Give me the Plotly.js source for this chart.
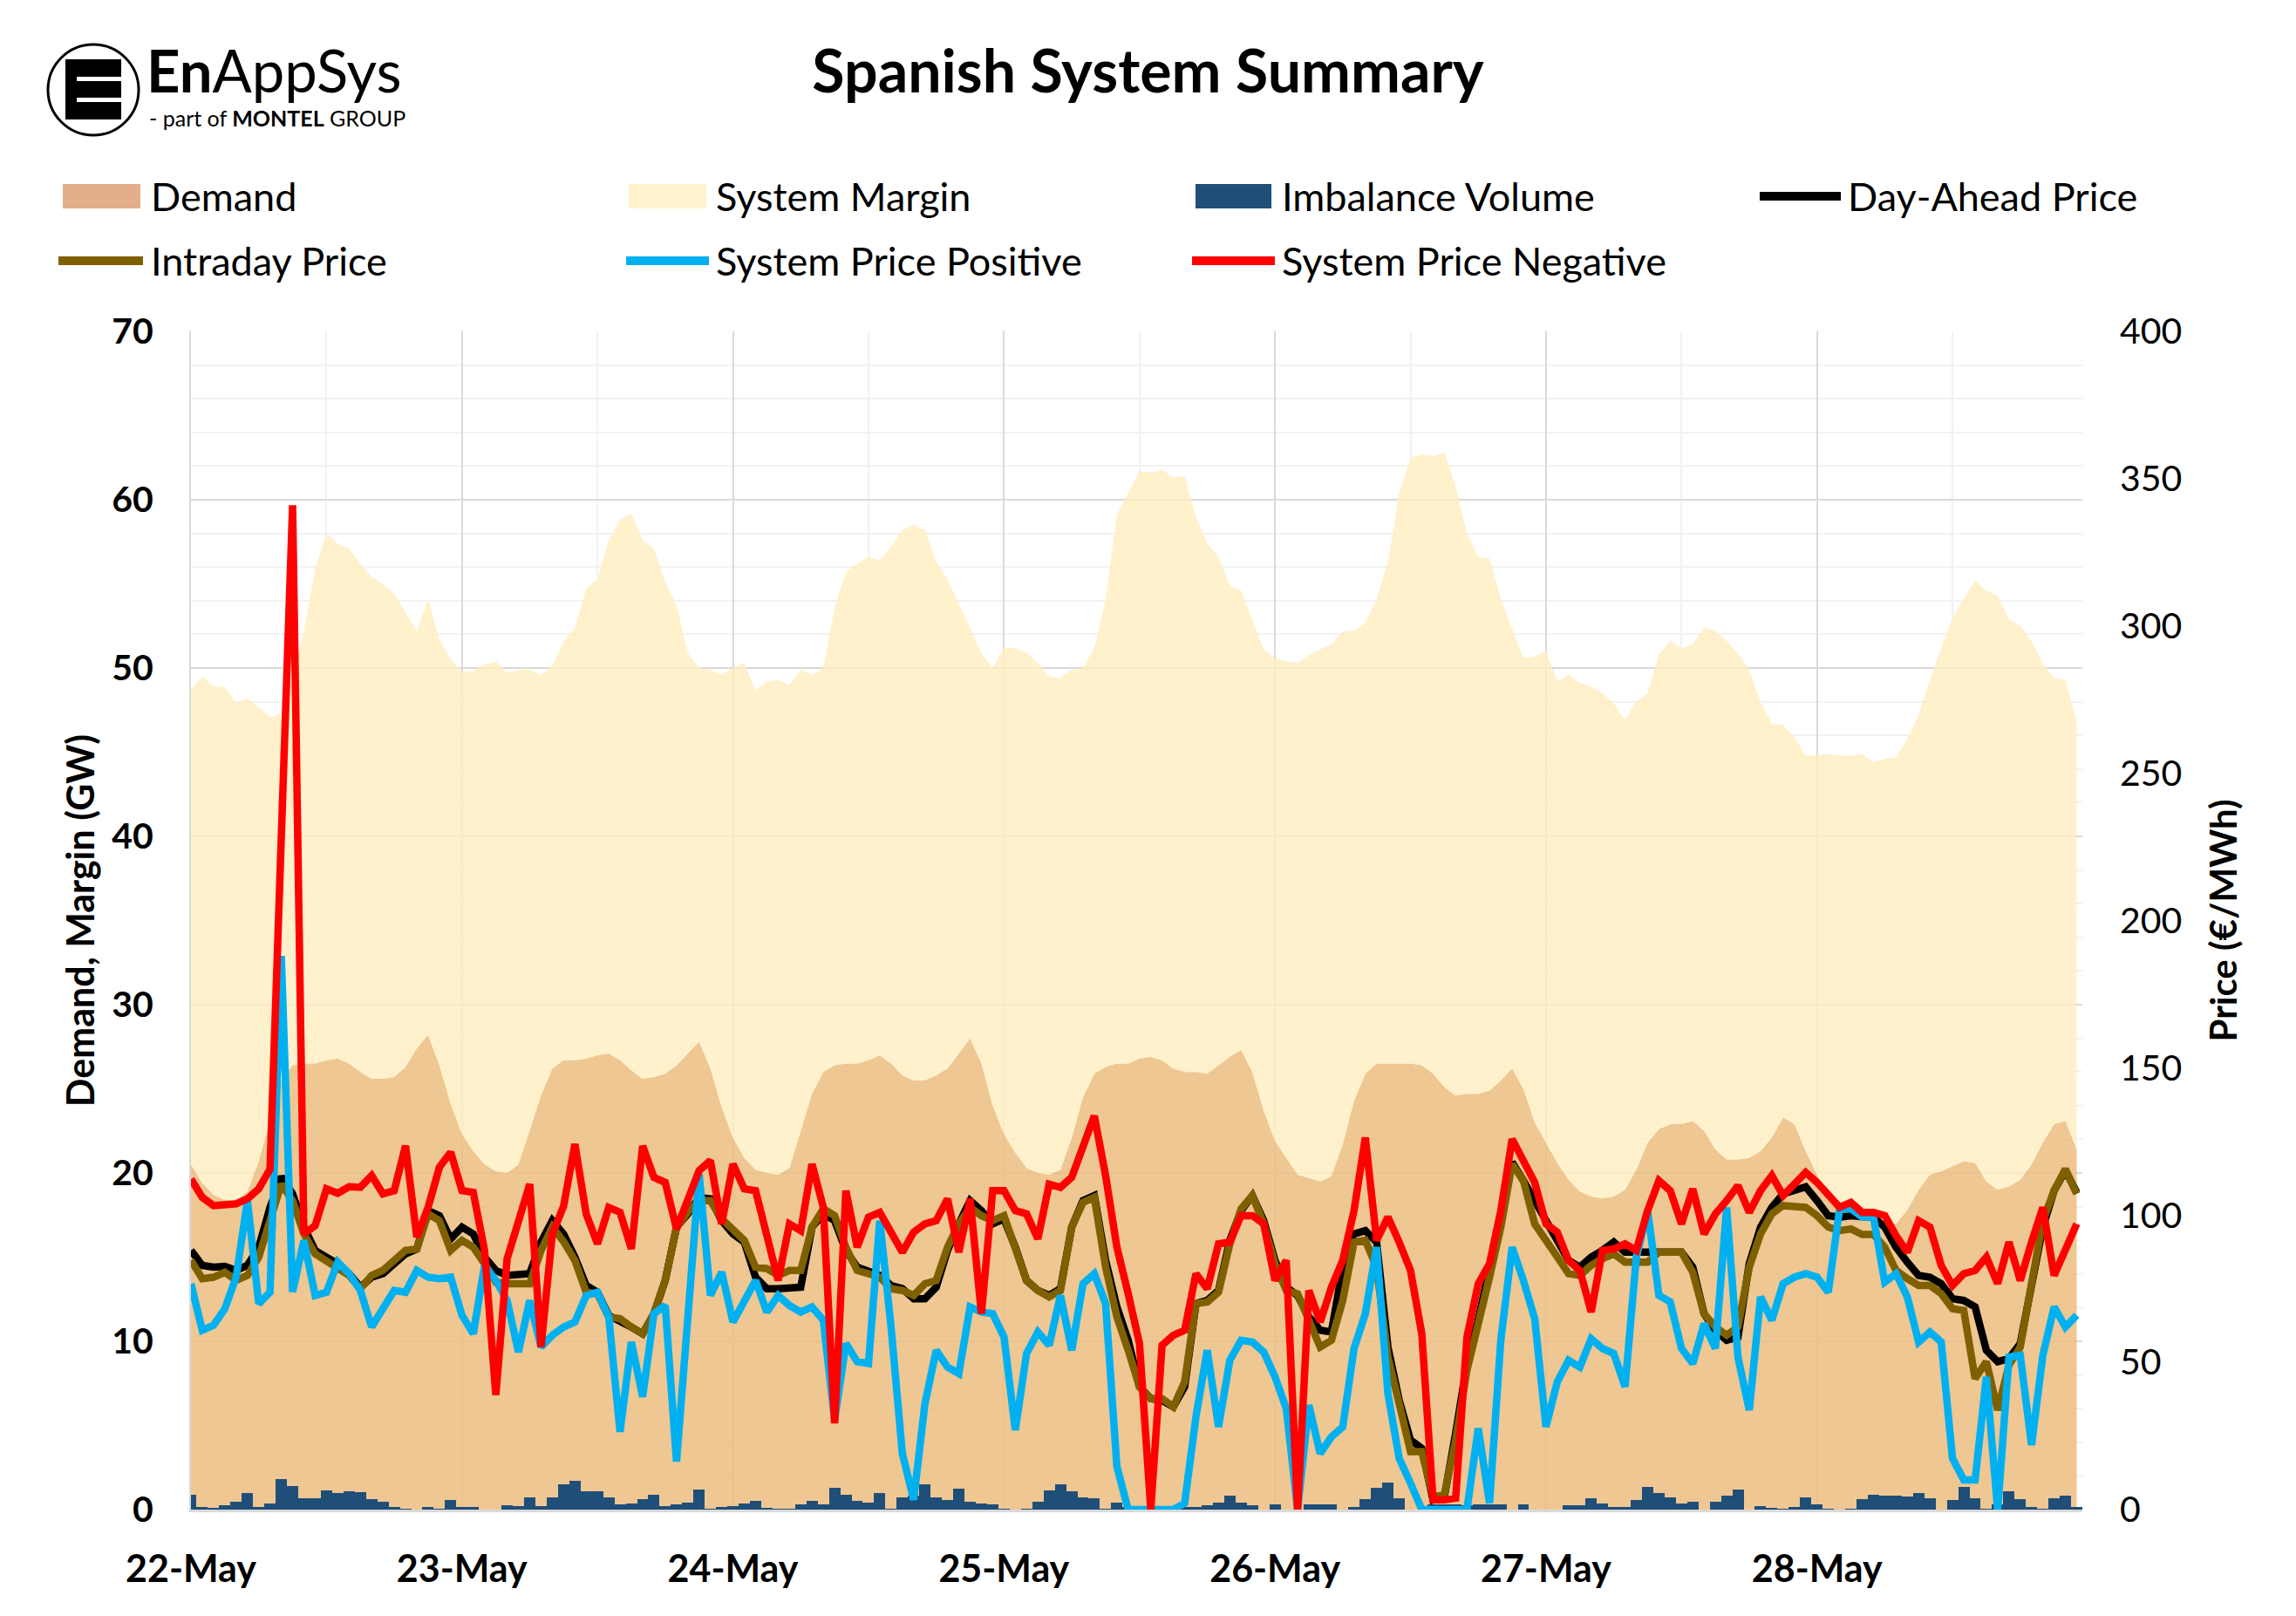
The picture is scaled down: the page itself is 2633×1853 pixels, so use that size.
<!DOCTYPE html>
<html>
<head>
<meta charset="utf-8">
<script src="https://cdn.plot.ly/plotly-3.0.1.min.js"></script>
<style>
html, body { margin: 0; padding: 0; background: #ffffff; }
#chart { width: 2633px; height: 1853px; }
</style>
</head>
<body>
<div id="chart"></div>
<script>
// ---------------- DATA (hourly, 22-May 00:00 to 28-May 23:00) ----------------
const dayLabels = ['22-May', '23-May', '24-May', '25-May', '26-May', '27-May', '28-May'];

// Demand, GW
const demand = [
  20.5,19.4,18.7,18.4,18.4,18.9,20.7,23.1,25.5,26.4,26.5,26.5,26.7,26.8,26.5,26.0,25.6,25.6,25.7,26.3,27.4,28.2,26.4,24.1,
  22.3,21.3,20.5,20.1,20.0,20.5,22.5,24.6,26.2,26.7,26.7,26.8,27.0,27.1,26.7,26.1,25.6,25.7,25.9,26.4,27.1,27.8,26.2,23.9,
  22.1,20.9,20.2,20.0,19.9,20.3,22.5,24.7,26.0,26.4,26.5,26.5,26.7,27.0,26.5,25.8,25.5,25.5,25.8,26.2,27.1,28.0,26.5,24.0,
  22.3,21.2,20.3,20.0,19.9,20.2,22.1,24.5,25.9,26.3,26.5,26.5,26.8,26.9,26.7,26.2,26.0,26.0,25.9,26.4,26.9,27.3,26.0,23.7,
  21.9,20.9,19.9,19.7,19.5,19.8,21.7,24.3,25.9,26.5,26.5,26.5,26.5,26.4,25.9,25.1,24.6,24.7,24.7,24.9,25.5,26.2,25.0,23.0,
  21.8,20.6,19.6,18.9,18.6,18.5,18.6,19.0,20.2,21.8,22.6,22.9,22.9,23.1,22.5,21.4,20.8,20.8,20.9,21.3,22.1,23.3,22.9,21.3,
  19.9,18.7,18.3,18.0,17.7,17.4,17.0,17.0,17.8,19.0,19.9,20.1,20.4,20.7,20.6,19.5,19.0,19.2,19.6,20.5,21.8,22.9,23.1,21.4
];

// Upper edge of the System Margin band (demand + margin), GW
const marginTop = [
  48.7,49.5,48.9,48.9,47.9,48.2,47.7,47.1,47.3,49.5,52.2,55.9,58.0,57.4,57.1,56.2,55.4,55.0,54.4,53.3,52.2,54.1,51.7,50.5,
  49.8,49.8,50.2,50.4,49.7,49.9,49.9,49.6,50.1,51.6,52.4,54.7,55.3,57.6,58.8,59.2,57.6,57.1,55.1,53.7,50.9,50.0,49.9,49.6,
  50.0,50.3,48.7,49.2,49.3,49.0,49.9,49.6,50.0,53.6,55.7,56.2,56.6,56.4,57.2,58.2,58.5,58.2,56.3,55.3,53.8,52.4,50.9,50.0,
  51.2,51.2,50.9,50.3,49.5,49.4,49.9,50.0,51.2,54.1,59.1,60.4,61.7,61.6,61.8,61.3,61.4,59.0,57.4,56.6,54.9,54.6,52.8,51.1,
  50.6,50.4,50.3,50.8,51.1,51.4,52.2,52.2,52.7,54.1,56.3,60.4,62.5,62.7,62.6,62.8,60.8,58.0,56.6,56.5,54.1,52.4,50.6,50.7,
  51.0,49.2,49.6,49.1,48.9,48.5,47.9,46.9,48.0,48.5,50.8,51.6,51.2,51.4,52.4,52.2,51.6,50.9,49.9,48.0,46.7,46.6,45.9,44.8,
  44.8,44.9,44.8,44.8,44.9,44.4,44.6,44.7,45.8,47.2,49.3,51.2,53.0,54.1,55.2,54.6,54.3,52.9,52.5,51.6,50.3,49.4,49.3,46.8
];

// Imbalance Volume, GW
const imbalance = [
  0.9,0.15,0.1,0.25,0.45,1.0,0.15,0.35,1.8,1.4,0.65,0.65,1.15,1.0,1.1,1.05,0.6,0.45,0.15,0.05,0,0.15,0.05,0.55,
  0.15,0.15,0,0,0.25,0.2,0.7,0.2,0.7,1.5,1.7,1.1,1.1,0.7,0.3,0.35,0.6,0.9,0.2,0.3,0.4,1.2,0.05,0.15,
  0.2,0.35,0.5,0.1,0.05,0.05,0.3,0.5,0.3,1.3,0.9,0.5,0.4,1.0,0.05,0.75,0.85,1.5,0.7,0.55,1.25,0.45,0.35,0.3,
  0.05,0,0.05,0.45,1.15,1.5,1.1,0.75,0.65,0.05,0.4,0.15,0,0,0,0.05,0.15,0.15,0.25,0.4,0.85,0.4,0.25,0,
  0.3,0,0,0.3,0.3,0.3,0,0.15,0.6,1.3,1.6,0.65,0,0,0.3,0.3,0.3,0.25,0.3,0.3,0.3,0,0.3,0,
  0,0,0.25,0.25,0.65,0.35,0.15,0.15,0.55,1.35,1.0,0.7,0.35,0.45,0,0.45,0.85,1.2,0,0.2,0.1,0.05,0.15,0.7,
  0.3,0.05,0,0.05,0.6,0.9,0.85,0.85,0.8,1.0,0.65,0,0.55,1.35,0.65,0.05,0.3,1.1,0.6,0.15,0.05,0.65,0.85,0.15
];

// Day-Ahead Price, EUR/MWh
const dayAhead = [
  88.0,82.9,82.3,82.6,81.2,82.9,89.1,102.6,113.0,107.2,95.9,88.0,85.7,83.5,80.1,75.5,78.9,80.1,83.5,86.8,88.5,101.5,99.8,91.9,
  95.9,93.6,85.7,81.2,79.5,79.5,80.1,90.8,98.1,93.5,85.7,76.1,73.8,65.9,64.2,62.0,59.7,66.5,77.8,95.9,100.4,106.0,105.5,98.1,
  93.6,90.8,78.9,75.0,75.0,75.0,75.5,95.9,100.4,98.1,88.0,82.3,81.2,79.5,76.1,75.0,71.6,71.6,75.5,88.0,97.0,104.9,101.5,97.0,
  98.7,89.1,77.8,74.4,72.7,75.0,95.9,104.9,106.6,84.6,68.8,57.5,41.7,37.7,37.1,34.9,41.7,69.9,71.0,74.4,91.4,101.5,106.6,98.1,
  84.6,75.5,72.7,65.4,60.9,60.3,82.3,93.6,94.7,90.8,55.2,37.1,23.6,20.8,3.3,4.4,25.9,49.6,64.3,82.3,98.1,117.9,111.7,104.9,
  97.0,90.2,84.6,82.3,85.7,88.0,90.8,87.4,87.4,87.4,87.4,87.4,87.4,82.3,66.5,60.9,57.5,58.6,83.5,95.9,102.6,107.2,108.3,109.6,
  104.9,99.8,99.3,99.8,99.5,99.3,95.9,89.1,84.0,79.5,78.9,76.7,71.6,71.0,68.8,54.1,50.2,51.3,56.4,75.5,95.9,108.3,115.1,107.7
];

// Intraday Price, EUR/MWh
const intraday = [
  84.6,78.4,78.9,80.6,77.8,79.5,85.7,98.1,110.5,104.9,93.6,86.8,84.6,82.3,79.5,75.0,79.5,81.2,84.6,88.0,88.5,100.4,98.1,88.0,
  91.4,89.1,83.5,77.2,76.7,76.7,76.7,88.0,95.9,91.0,84.6,73.8,73.3,65.4,64.8,62.0,59.7,66.5,77.8,95.9,101.0,104.9,104.9,98.7,
  94.7,91.4,82.3,81.8,79.5,81.2,81.2,95.9,102.1,99.8,89.1,81.2,80.1,78.9,75.0,74.4,72.7,76.7,77.8,89.1,97.0,102.6,99.8,98.1,
  99.8,88.0,77.8,74.4,72.2,74.4,95.9,104.3,106.0,82.3,65.4,54.1,41.7,37.7,37.7,34.9,43.4,69.9,70.5,73.8,90.2,102.1,106.6,97.0,
  83.5,74.4,73.3,64.3,55.2,57.5,71.0,90.8,91.4,82.3,51.8,36.0,19.7,19.7,4.4,5.0,23.6,47.3,62.0,78.9,95.9,117.3,111.7,97.0,
  91.4,85.7,80.1,79.5,82.9,85.2,86.8,84.0,84.0,84.0,87.4,87.4,87.4,80.6,66.5,62.0,59.2,62.0,82.3,93.6,100.4,103.2,103.2,102.6,
  99.8,95.9,94.7,95.3,93.4,93.4,89.1,81.2,78.4,76.1,76.1,73.3,68.2,67.6,44.5,50.2,33.8,49.0,55.2,75.5,98.1,108.3,115.6,107.2
];

// System Price Positive, EUR/MWh
const sysPricePos = [
  76.7,60.9,62.6,68.2,78.9,104.9,69.9,73.8,188,73.9,91.4,72.7,73.8,84.0,80.1,74.4,62.0,68.2,74.4,73.8,81.2,78.9,78.4,78.9,
  66.0,59.7,82.9,77.8,71.0,53.5,71.0,55.2,59.2,62.0,63.7,72.7,73.8,65.4,26.4,56.9,38.3,66.5,69.3,16.3,63.0,113.9,72.7,80.6,
  63.7,71.0,77.8,67.1,72.7,69.3,67.1,68.8,64.3,30.4,56.4,50.2,49.6,98.1,62.0,19.1,3.3,36.0,54.1,48.4,46.2,68.8,67.1,66.5,
  58.6,27.0,53.0,60.3,55.8,72.7,54.1,76.7,80.1,69.9,14.6,0,0,0,0,0,2.2,31.5,54.1,28.1,50.7,57.5,56.9,53.5,
  45.1,34.3,0,35.5,19.1,24.7,28.1,54.7,66.5,89.1,39.4,17.4,9.0,0,0,0,0,0,27.6,2.2,57.5,89.1,77.8,64.8,
  28.1,43.4,50.7,48.4,58.0,54.7,53.0,41.7,85.7,101.5,72.7,70.5,54.7,49.6,63.1,54.7,102.6,51.8,33.8,72.2,64.3,76.7,78.9,80.1,
  78.9,73.8,102.1,102.1,99.3,99.3,77.2,80.1,72.2,56.9,60.3,56.9,17.4,10.1,10.1,45.1,0,51.8,52.4,21.9,52.4,68.8,62.0,66.0
];

// System Price Negative, EUR/MWh
const sysPriceNeg = [
  112.2,106.0,103.2,103.2,103.8,105.5,108.9,115.6,228,341,93.6,96.4,108.9,107.4,109.6,109.4,113.4,107.2,108.3,123.5,92.5,102.6,116.2,121.3,
  108.3,107.7,88.0,38.9,85.2,97.0,110.5,55.2,93.6,103.0,124.1,100.4,90.2,102.6,100.9,88.5,123.5,112.8,111.1,95.3,106.0,115.1,118.5,97.0,
  117.3,108.9,108.3,93.6,77.8,97.0,94.7,117.3,102.6,29.3,108.3,89.1,99.3,100.9,94.2,87.4,94.2,97.0,98.1,105.5,87.4,105.5,66.5,108.3,
  108.3,101.5,100.4,91.9,110.5,109.4,112.8,124.1,133.7,113.4,89.1,73.3,56.4,0,55.8,59.2,60.9,80.1,75.0,90.2,90.8,99.8,99.8,97.0,
  77.8,84.6,0,74.4,63.7,75.5,84.6,101.5,126.3,91.4,99.3,90.8,81.2,59.7,3.3,3.3,3.9,58.6,76.7,83.5,101.5,125.8,117.9,111.1,
  97.0,94.2,84.6,81.2,67.1,88.0,88.5,90.2,88.0,101.5,111.7,108.3,97.0,108.9,93.6,100.4,104.9,110.0,100.9,108.3,113.4,106.6,110.5,114.5,
  111.1,106.6,102.6,104.3,100.9,100.9,99.8,93.0,87.4,98.1,95.9,82.9,76.1,80.1,81.2,85.7,76.7,90.8,77.8,90.8,102.6,79.5,88.0,97.0
];

// ---------------- timestamps (hourly categories) ----------------
const times = demand.map((_, i) => {
  const d = 22 + Math.floor(i / 24);
  const h = i % 24;
  return '2024-05-' + d + ' ' + String(h).padStart(2, '0') + ':00';
});

// ---------------- colours ----------------
const C = {
  demandFill: 'rgba(236,189,127,0.85)',
  marginFill: 'rgba(255,238,191,0.80)',
  demandKey: '#E3AE89',
  marginKey: '#FFF2CC',
  imbalance: '#1F4E79',
  da: '#000000',
  id: '#7F6000',
  pos: '#00B0F0',
  neg: '#FF0000'
};
const FONT = 'Lato, "Open Sans", "Noto Sans", sans-serif';
const LW = 8.5;

// ---------------- traces ----------------
const traces = [
  { x: times, y: demand, name: 'Demand', type: 'scatter', mode: 'lines',
    fill: 'tozeroy', fillcolor: C.demandFill, line: { width: 0, color: C.demandKey }, xaxis: 'x', yaxis: 'y' },
  { x: times, y: marginTop, name: 'System Margin', type: 'scatter', mode: 'lines',
    fill: 'tonexty', fillcolor: C.marginFill, line: { width: 0, color: C.marginKey }, xaxis: 'x', yaxis: 'y' },
  { x: times, y: imbalance, name: 'Imbalance Volume', type: 'bar', width: 3600000,
    marker: { color: C.imbalance, line: { width: 0 } }, xaxis: 'x', yaxis: 'y2' },
  { x: times, y: dayAhead, name: 'Day-Ahead Price', type: 'scatter', mode: 'lines',
    line: { color: C.da, width: LW }, xaxis: 'x', yaxis: 'y3' },
  { x: times, y: intraday, name: 'Intraday Price', type: 'scatter', mode: 'lines',
    line: { color: C.id, width: LW }, xaxis: 'x', yaxis: 'y3' },
  { x: times, y: sysPricePos, name: 'System Price Positive', type: 'scatter', mode: 'lines',
    line: { color: C.pos, width: LW }, xaxis: 'x', yaxis: 'y3' },
  { x: times, y: sysPriceNeg, name: 'System Price Negative', type: 'scatter', mode: 'lines',
    line: { color: C.neg, width: LW }, xaxis: 'x', yaxis: 'y3' }
];

// ---------------- geometry helpers (pixel -> paper) ----------------
const L = 219, R = 2388, T = 380, B = 1731;
const W = R - L, H = B - T;
const px = X => (X - L) / W;
const py = Y => (B - Y) / H;

const shapes = [];
const annotations = [];

// logo
shapes.push({ type: 'circle', xref: 'paper', yref: 'paper', x0: px(55), x1: px(159), y0: py(155), y1: py(51),
  line: { color: '#000000', width: 3 }, fillcolor: 'rgba(0,0,0,0)', layer: 'above' });
[[75, 139, 68, 88], [75, 139, 93, 112], [75, 139, 117, 137], [75, 88, 68, 137]].forEach(r => {
  shapes.push({ type: 'rect', xref: 'paper', yref: 'paper', x0: px(r[0]), x1: px(r[1]), y0: py(r[3]), y1: py(r[2]),
    line: { width: 0 }, fillcolor: '#000000', layer: 'above' });
});
annotations.push({ xref: 'paper', yref: 'paper', x: px(166), y: py(80), xanchor: 'left', yanchor: 'middle',
  text: '<b>En</b>AppSys', showarrow: false, font: { family: FONT, size: 67, color: '#000' } });
annotations.push({ xref: 'paper', yref: 'paper', x: px(169), y: py(135), xanchor: 'left', yanchor: 'middle',
  text: '- part of <b>MONTEL</b> GROUP', showarrow: false, font: { family: FONT, size: 25, color: '#000' } });

// custom legend
const legendItems = [
  { kind: 'box', color: C.demandKey, x0: 72, x1: 161, y: 225, tx: 171, label: 'Demand' },
  { kind: 'box', color: C.marginKey, x0: 721, x1: 810, y: 225, tx: 819, label: 'System Margin' },
  { kind: 'box', color: C.imbalance, x0: 1371, x1: 1458, y: 225, tx: 1468, label: 'Imbalance Volume' },
  { kind: 'line', color: C.da, x0: 2018, x1: 2111, y: 225, tx: 2117, label: 'Day-Ahead Price' },
  { kind: 'line', color: C.id, x0: 67, x1: 164, y: 299, tx: 171, label: 'Intraday Price' },
  { kind: 'line', color: C.pos, x0: 718, x1: 813, y: 299, tx: 819, label: 'System Price Positive' },
  { kind: 'line', color: C.neg, x0: 1367, x1: 1462, y: 299, tx: 1468, label: 'System Price Negative' }
];
legendItems.forEach(it => {
  if (it.kind === 'box') {
    shapes.push({ type: 'rect', xref: 'paper', yref: 'paper', x0: px(it.x0), x1: px(it.x1),
      y0: py(it.y + 14), y1: py(it.y - 14), line: { width: 0 }, fillcolor: it.color, layer: 'above' });
  } else {
    shapes.push({ type: 'line', xref: 'paper', yref: 'paper', x0: px(it.x0), x1: px(it.x1),
      y0: py(it.y), y1: py(it.y), line: { color: it.color, width: 10 }, layer: 'above' });
  }
  annotations.push({ xref: 'paper', yref: 'paper', x: px(it.tx), y: py(it.y), xanchor: 'left', yanchor: 'middle',
    text: it.label, showarrow: false, font: { family: FONT, size: 45, color: '#000' } });
});

// ---------------- layout ----------------
const layout = {
  width: 2633, height: 1853,
  margin: { l: L, r: 2633 - R, t: T, b: 1853 - B, pad: 0 },
  paper_bgcolor: '#ffffff', plot_bgcolor: '#ffffff',
  font: { family: FONT, color: '#000000' },
  showlegend: false,
  hovermode: false,
  bargap: 0,
  title: { text: '<b>Spanish System Summary</b>', x: 0.5, xanchor: 'center', y: 1 - 82 / 1853, yanchor: 'middle',
    font: { family: FONT, size: 68, color: '#000' } },
  xaxis: {
    type: 'date',
    range: ['2024-05-22 00:00', '2024-05-28 23:30'],
    tick0: '2024-05-22', dtick: 86400000, tickformat: '%d-%b',
    ticks: '', ticklabelstandoff: 28,
    tickfont: { family: FONT, size: 43, weight: 'bold', color: '#000' },
    showgrid: true, gridcolor: '#D9D9D9', gridwidth: 2,
    minor: { dtick: 43200000, showgrid: true, gridcolor: '#F2F2F2', gridwidth: 2, ticks: '' },
    showline: true, linecolor: '#D9D9D9', linewidth: 3,
    zeroline: false, fixedrange: true
  },
  yaxis: {
    range: [0, 70], dtick: 10, tick0: 0,
    ticks: '', ticklabelstandoff: 33,
    tickfont: { family: FONT, size: 41, weight: 'bold', color: '#000' },
    showgrid: true, gridcolor: '#D9D9D9', gridwidth: 2,
    minor: { dtick: 2, showgrid: true, gridcolor: '#F2F2F2', gridwidth: 2, ticks: '' },
    showline: true, linecolor: '#D9D9D9', linewidth: 2,
    zeroline: false,
    title: { text: '<b>Demand, Margin (GW)</b>', standoff: 6, font: { family: FONT, size: 43, color: '#000' } }
  },
  yaxis2: { overlaying: 'y', range: [0, 70], visible: false, showgrid: false, zeroline: false },
  yaxis3: {
    overlaying: 'y', side: 'right', anchor: 'x',
    range: [0, 400], dtick: 50, tick0: 0,
    ticks: '', ticklabelstandoff: 42,
    tickfont: { family: FONT, size: 41, color: '#000' },
    showgrid: false, zeroline: false, showline: false,
    title: { text: '<b>Price (€/MWh)</b>', standoff: 34, font: { family: FONT, size: 42, color: '#000' } }
  },
  shapes: shapes,
  annotations: annotations
};

Plotly.newPlot('chart', traces, layout, { staticPlot: true, displayModeBar: false });
</script>
</body>
</html>
